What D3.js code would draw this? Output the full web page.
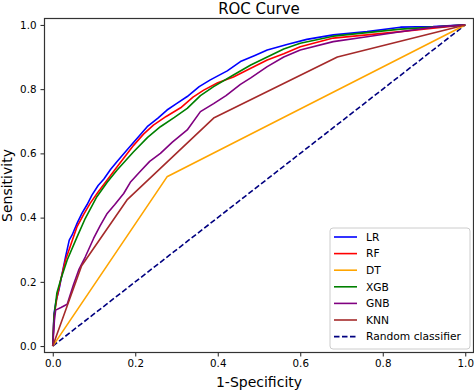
<!DOCTYPE html>
<html lang="en">
<head>
    <meta charset="UTF-8">
    <script src="https://d3js.org/d3.v7.min.js"></script>
    <title>ROC Curve</title>
    <style>
        body{
            margin: 0;
            background: #fff;
        }
        svg text{
            font-family: "DejaVu Sans", sans-serif;
            fill: #000;
        }
    </style>
</head>
<body>
    <script>
        // ROC points [1-specificity, sensitivity]
        const lr = [[0,0],[0.003,0.10],[0.008,0.14],[0.015,0.175],[0.023,0.227],[0.031,0.278],[0.04,0.33],[0.047,0.346],
            [0.06,0.385],[0.071,0.414],[0.083,0.44],[0.095,0.47],[0.11,0.50],[0.124,0.52],[0.14,0.55],[0.156,0.575],
            [0.183,0.615],[0.21,0.655],[0.229,0.683],[0.255,0.71],[0.277,0.735],[0.30,0.755],[0.326,0.777],[0.355,0.808],
            [0.382,0.829],[0.423,0.857],[0.455,0.886],[0.49,0.905],[0.52,0.922],[0.57,0.94],[0.616,0.955],[0.68,0.969],
            [0.762,0.979],[0.843,0.993],[0.922,0.995],[1,1]];
        const rf = [[0,0],[0.003,0.09],[0.01,0.15],[0.02,0.21],[0.031,0.268],[0.045,0.32],[0.059,0.372],[0.075,0.41],
            [0.091,0.445],[0.11,0.48],[0.132,0.517],[0.157,0.56],[0.184,0.605],[0.196,0.625],[0.22,0.66],[0.244,0.688],
            [0.275,0.715],[0.31,0.742],[0.34,0.775],[0.366,0.797],[0.40,0.82],[0.438,0.838],[0.48,0.865],[0.52,0.891],
            [0.56,0.91],[0.6,0.932],[0.68,0.959],[0.762,0.969],[0.843,0.979],[0.922,0.99],[1,1]];
        const dt = [[0,0],[0.277,0.527],[1,1]];
        const xgb = [[0,0],[0.003,0.09],[0.01,0.165],[0.02,0.21],[0.035,0.268],[0.059,0.34],[0.079,0.398],[0.107,0.465],
            [0.132,0.51],[0.156,0.548],[0.196,0.605],[0.23,0.65],[0.261,0.683],[0.295,0.712],[0.326,0.74],[0.358,0.78],
            [0.39,0.808],[0.438,0.844],[0.48,0.875],[0.52,0.90],[0.56,0.925],[0.6,0.943],[0.68,0.965],[0.762,0.976],
            [0.843,0.987],[0.922,0.993],[1,1]];
        const gnb = [[0,0],[0.004,0.08],[0.007,0.112],[0.02,0.12],[0.035,0.13],[0.05,0.19],[0.063,0.237],[0.079,0.278],
            [0.099,0.335],[0.115,0.375],[0.132,0.413],[0.15,0.44],[0.172,0.475],[0.188,0.51],[0.213,0.545],[0.235,0.575],
            [0.261,0.60],[0.29,0.635],[0.326,0.673],[0.358,0.73],[0.39,0.755],[0.42,0.78],[0.455,0.815],[0.48,0.835],
            [0.52,0.87],[0.56,0.9],[0.6,0.922],[0.68,0.948],[0.762,0.963],[0.843,0.979],[0.922,0.993],[1,1]];
        const knn = [[0,0],[0.07,0.25],[0.18,0.455],[0.39,0.71],[0.69,0.90],[1,1]];
        const randomLine = [[0,0],[1,1]];

        const names = ["LR", "RF", "DT", "XGB", "GNB", "KNN", "Random classifier"];
        const colors = ["#0000ff", "#ff0000", "#ffa500", "#008000", "#800080", "#a52a2a", "#000080"];
        const ticks = [0, 0.2, 0.4, 0.6, 0.8, 1.0];

        const series = [lr, rf, dt, xgb, gnb, knn, randomLine];

        const width = 474;
        const height = 391;
        const margin = {top: 18.5, right: 0.5, bottom: 38.5, left: 44.5};

        const x = d3.scaleLinear()
            .domain([-0.02, 1.02])
            .range([margin.left, width - margin.right]);
        const y = d3.scaleLinear()
            .domain([-0.02, 1.02])
            .range([height - margin.bottom, margin.top]);

        const svg = d3.select('body')
            .append('svg')
            .attr('width', width)
            .attr('height', height);

        const line = d3.line()
            .x(d => x(d[0]))
            .y(d => y(d[1]));

        // draw random line first, then models in order
        const order = [6, 0, 1, 2, 3, 4, 5];
        svg.append('g')
            .selectAll('path')
            .data(order).enter()
            .append('path')
            .attr('d', i => line(series[i]))
            .attr('fill', 'none')
            .attr('stroke', i => colors[i])
            .attr('stroke-width', 1.6)
            .attr('stroke-linejoin', 'round')
            .attr('stroke-dasharray', i => i === 6 ? '5.5,2.5' : null);

        const xAxis = d3.axisBottom(x)
            .tickValues(ticks)
            .tickFormat(d3.format('.1f'))
            .tickSize(4)
            .tickPadding(3);
        const yAxis = d3.axisLeft(y)
            .tickValues(ticks)
            .tickFormat(d3.format('.1f'))
            .tickSize(4)
            .tickPadding(4);

        const gx = svg.append('g')
            .attr('transform', `translate(0, ${height - margin.bottom})`)
            .call(xAxis);
        const gy = svg.append('g')
            .attr('transform', `translate(${margin.left}, 0)`)
            .call(yAxis);
        [gx, gy].forEach(g => {
            g.select('.domain').remove();
            g.selectAll('text')
                .attr('font-size', 10.3)
                .attr('font-family', '"DejaVu Sans", sans-serif')
                .attr('fill', '#000');
            g.selectAll('line').attr('stroke', '#222').attr('stroke-width', 1);
        });

        // frame
        svg.append('rect')
            .attr('x', margin.left)
            .attr('y', margin.top)
            .attr('width', width - margin.right - margin.left)
            .attr('height', height - margin.bottom - margin.top)
            .attr('fill', 'none')
            .attr('stroke', '#333')
            .attr('stroke-width', 1.2);

        svg.append('text')
            .attr('x', (margin.left + width - margin.right) / 2)
            .attr('y', 13.5)
            .attr('text-anchor', 'middle')
            .attr('font-size', 15)
            .text('ROC Curve');

        svg.append('text')
            .attr('x', (margin.left + width - margin.right) / 2)
            .attr('y', 387)
            .attr('text-anchor', 'middle')
            .attr('font-size', 14)
            .text('1-Specificity');

        svg.append('text')
            .attr('transform', `translate(12, ${(margin.top + height - margin.bottom) / 2}) rotate(-90)`)
            .attr('text-anchor', 'middle')
            .attr('font-size', 14)
            .text('Sensitivity');

        // legend
        const legend = svg.append('g').attr('transform', 'translate(330, 228)');
        legend.append('rect')
            .attr('width', 140)
            .attr('height', 121)
            .attr('rx', 3)
            .attr('fill', '#fff')
            .attr('fill-opacity', 0.8)
            .attr('stroke', '#ccc');
        const items = legend.selectAll('g.item')
            .data(names).enter()
            .append('g')
            .attr('class', 'item')
            .attr('transform', (d, i) => `translate(0, ${9 + i * 16.6})`);
        items.append('line')
            .attr('x1', 4).attr('x2', 27)
            .attr('stroke', (d, i) => colors[i])
            .attr('stroke-width', 1.6)
            .attr('stroke-dasharray', (d, i) => i === 6 ? '5.5,2.5' : null);
        items.append('text')
            .attr('x', 36)
            .attr('y', 3.8)
            .attr('font-size', 10.7)
            .text(d => d);
    </script>
</body>
</html>
